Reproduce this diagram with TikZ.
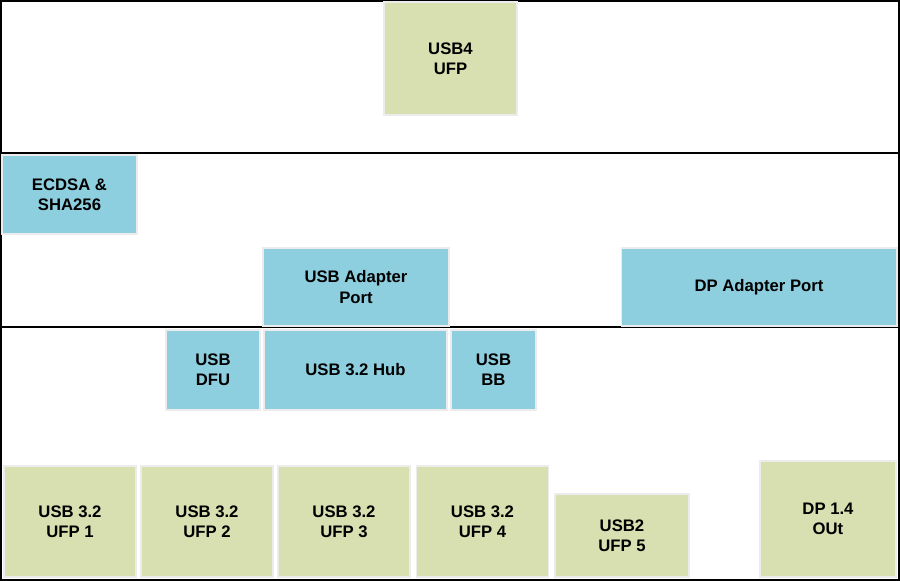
\documentclass[tikz,border=0pt]{standalone}
\usepackage{fontspec}
\setmainfont{Liberation Sans}
\definecolor{ufpgreen}{HTML}{D8DFB0}
\definecolor{adpblue}{HTML}{8ECFDF}
\tikzset{
  blk/.style={rectangle, draw=gray!15, line width=0.6pt, inner sep=0pt, align=center,
    font=\fontsize{9.5}{11.5}\selectfont\bfseries},
  ufp/.style={blk, fill=ufpgreen},
  adp/.style={blk, fill=adpblue},
}
\begin{document}
\begin{tikzpicture}[x=0.02cm,y=-0.02cm]
 \useasboundingbox (0,0) rectangle (900,581);
 \draw[line width=0.8pt] (1,1) rectangle (899,580);
 \coordinate (l1a) at (1,153);
 \coordinate (l1b) at (899,153);
 \coordinate (l2a) at (1,327);
 \coordinate (l2b) at (899,327);
 \draw[line width=0.8pt] (l1a) -- (l1b);
 \draw[line width=0.8pt] (l2a) -- (l2b);
 % top
 \node[ufp, minimum width=2.66cm, minimum height=2.26cm] (usbfour) at (450.5,58.5) {USB4\\UFP};
 % adapters
 \node[adp, minimum width=2.7cm, minimum height=1.58cm] (ecdsa) at (69.5,194.5) {ECDSA \&\\SHA256};
 \node[adp, minimum width=3.72cm, minimum height=1.56cm] (usbadp) at (356,287) {USB Adapter\\Port};
 \node[adp, minimum width=5.52cm, minimum height=1.56cm] (dpadp) at (759,287) {DP Adapter Port};
 \node[adp, minimum width=1.88cm, minimum height=1.6cm] (dfu) at (213,370) {USB\\DFU};
 \node[adp, minimum width=3.66cm, minimum height=1.6cm] (hub) at (355.5,370) {USB 3.2 Hub};
 \node[adp, minimum width=1.7cm, minimum height=1.6cm] (bb) at (493.5,370) {USB\\BB};
 % bottom row
 \foreach \i/\cx in {1/70,2/207,3/344,4/482.5}
   \node[ufp, minimum width=2.64cm, minimum height=2.22cm] (ufp\i) at (\cx,521.5) {USB 3.2\\UFP \i};
 \node[ufp, minimum width=2.68cm, minimum height=1.66cm] (ufpfive) at (622,535.5) {USB2\\UFP 5};
 \node[ufp, minimum width=2.72cm, minimum height=2.32cm] (dpout) at (828,519) {DP 1.4\\OUt};
\end{tikzpicture}
\end{document}
